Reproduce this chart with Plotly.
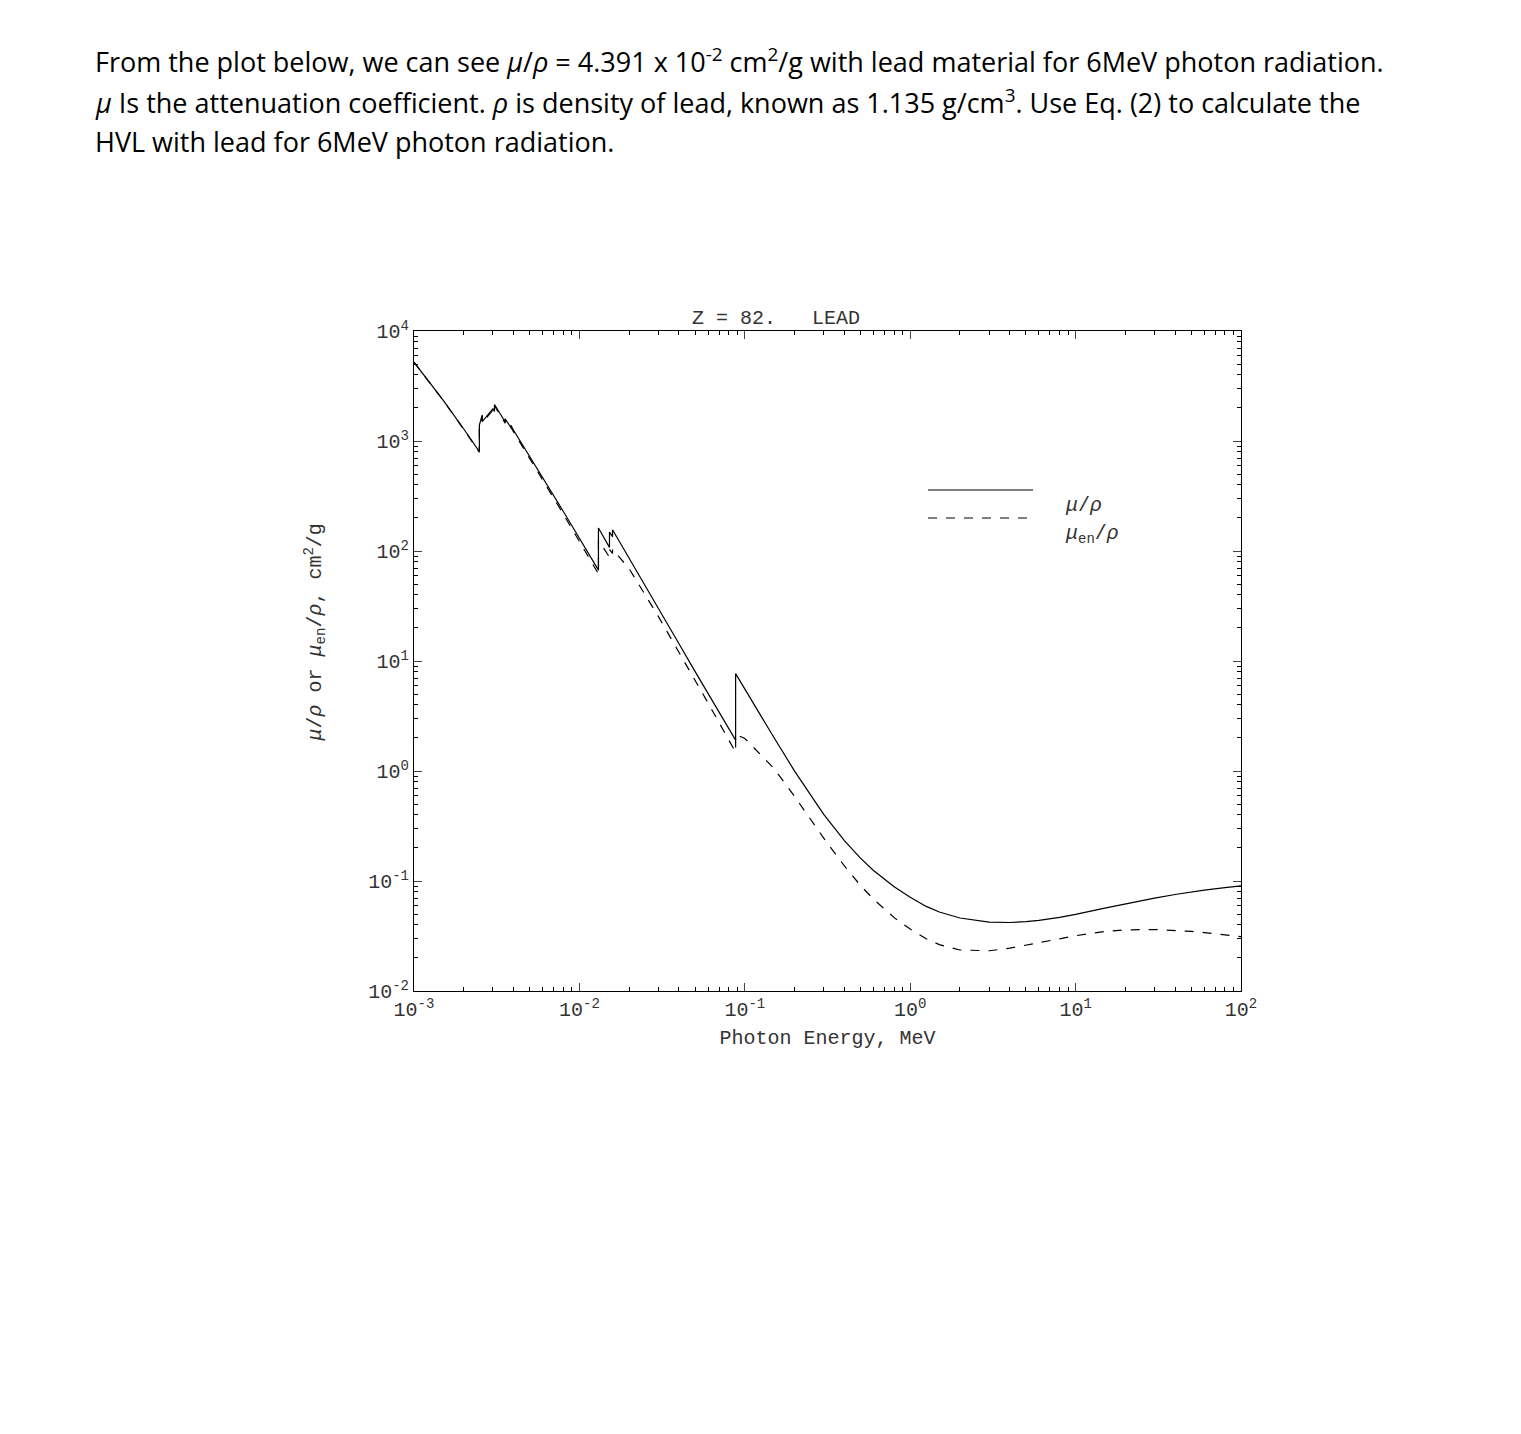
import plotly.graph_objects as go

# photon energy (MeV) and coefficients (cm^2/g) for lead
energy = [0.001, 0.0015, 0.002, 0.002484, 0.002484, 0.002586, 0.002586, 0.003, 0.003066, 0.003066,
          0.003554, 0.003554, 0.003851, 0.003851, 0.004, 0.005, 0.006, 0.008, 0.01,
          0.013035, 0.013035, 0.015, 0.0152, 0.0152, 0.01586, 0.01586, 0.02, 0.03, 0.04,
          0.05, 0.06, 0.08, 0.088, 0.088, 0.1, 0.15, 0.2, 0.3, 0.4, 0.5, 0.6, 0.8,
          1.0, 1.25, 1.5, 2.0, 3.0, 4.0, 5.0, 6.0, 8.0, 10.0, 15.0, 20.0, 30.0, 40.0,
          50.0, 60.0, 80.0, 100.0]
mu_rho = [5210, 2356, 1285, 800.6, 1397, 1726, 1497, 1965, 1857, 2149,
          1497, 1594, 1327, 1389, 1251, 730.4, 467.2, 228.7, 130.6,
          67.0, 162.0, 111.6, 107.8, 148.5, 135.0, 156.0, 86.36, 30.32, 14.36,
          8.041, 5.021, 2.419, 1.91, 7.683, 5.549, 2.014, 0.9985, 0.4031, 0.2323, 0.1614, 0.1248, 0.0887,
          0.07102, 0.05876, 0.05222, 0.04606, 0.04234, 0.04197, 0.04272, 0.04391, 0.04675, 0.04972,
          0.05658, 0.06206, 0.06997, 0.07541, 0.07946, 0.08257, 0.08701, 0.09011]
muen_rho = [5197, 2344, 1274, 789.7, 1366, 1682, 1457, 1916, 1812, 2093,
            1453, 1548, 1284, 1344, 1210, 701.7, 446.1, 216.2, 122.3,
            61.8, 125.0, 91.0, 88.0, 103.0, 95.0, 104.0, 68.99, 25.42, 12.11,
            6.74, 4.149, 1.916, 1.482, 2.16, 1.976, 1.056, 0.587, 0.2455, 0.137, 0.09128, 0.06819, 0.04644,
            0.03654, 0.02988, 0.0264, 0.0236, 0.02322, 0.02449, 0.026, 0.02744, 0.02989, 0.03181,
            0.03478, 0.03595, 0.03621, 0.03556, 0.03479, 0.03400, 0.03250, 0.03124]

x_ticks = [1e-3, 1e-2, 1e-1, 1, 10, 100]
x_labels = ["10<sup>-3</sup>", "10<sup>-2</sup>", "10<sup>-1</sup>", "10<sup>0</sup>", "10<sup>1</sup>", "10<sup>2</sup>"]
y_ticks = [1e-2, 1e-1, 1, 10, 100, 1e3, 1e4]
y_labels = ["10<sup>-2</sup>", "10<sup>-1</sup>", "10<sup>0</sup>", "10<sup>1</sup>", "10<sup>2</sup>", "10<sup>3</sup>", "10<sup>4</sup>"]

x_minor = [m * d for d in x_ticks[:-1] for m in range(2, 10)]
y_minor = [m * d for d in y_ticks[:-1] for m in range(2, 10)]

mono = dict(family="Liberation Mono", size=20, color="#333")

fig = go.Figure()
fig.add_scatter(x=energy, y=mu_rho, mode="lines", line=dict(color="black", width=1.2), name="μ/ρ")
fig.add_scatter(x=energy, y=muen_rho, mode="lines", line=dict(color="black", width=1.2, dash="dash"), name="μen/ρ")

axis = dict(type="log", ticks="inside", ticklen=8, mirror="allticks", showline=True, linecolor="black",
            linewidth=1, showgrid=False, zeroline=False, tickfont=mono)
fig.update_xaxes(**axis, range=[-3, 2], tickvals=x_ticks, ticktext=x_labels,
                 minor=dict(tickvals=x_minor, ticks="inside", ticklen=4, tickcolor="black", showgrid=False),
                 title=dict(text="Photon Energy, MeV", font=mono, standoff=8))
fig.update_yaxes(**axis, range=[-2, 4], tickvals=y_ticks, ticktext=y_labels,
                 minor=dict(tickvals=y_minor, ticks="inside", ticklen=4, tickcolor="black", showgrid=False))

header = [
    "From the plot below, we can see <i>μ</i>/<i>ρ</i> = 4.391 x 10<sup>-2</sup> cm<sup>2</sup>/g with lead material for 6MeV photon radiation.",
    "<i>μ</i> Is the attenuation coefficient. <i>ρ</i> is density of lead, known as 1.135 g/cm<sup>3</sup>. Use Eq. (2) to calculate the",
    "HVL with lead for 6MeV photon radiation.",
]
anns = []
for i, line in enumerate(header):
    anns.append(dict(text=line, xref="paper", yref="paper", x=(85 - 406) / 827, y=(983 - 53 - 40 * i) / 660,
                     xanchor="left", yanchor="middle", showarrow=False,
                     font=dict(family="Open Sans", size=27, color="black")))
anns += [
    dict(text="Z = 82.   LEAD", xref="paper", yref="paper", x=(768 - 406) / 827, y=(983 - 297) / 660,
         showarrow=False, font=mono),
    dict(text="<i>μ</i>/<i>ρ</i> or <i>μ</i><sub>en</sub>/<i>ρ</i>, cm<sup>2</sup>/g", xref="paper", yref="paper",
         x=(290 - 406) / 827, y=(983 - 625) / 660, textangle=-90, showarrow=False, font=mono),
    dict(text="<i>μ</i>/<i>ρ</i>", xref="paper", yref="paper", x=(1055 - 406) / 827, y=(983 - 484) / 660,
         xanchor="left", showarrow=False, font=mono),
    dict(text="<i>μ</i><sub>en</sub>/<i>ρ</i>", xref="paper", yref="paper", x=(1055 - 406) / 827, y=(983 - 512) / 660,
         xanchor="left", showarrow=False, font=mono),
]
shapes = [
    dict(type="line", xref="paper", yref="paper", x0=(920 - 406) / 827, x1=(1025 - 406) / 827,
         y0=(983 - 482) / 660, y1=(983 - 482) / 660, line=dict(color="black", width=1.2)),
    dict(type="line", xref="paper", yref="paper", x0=(920 - 406) / 827, x1=(1025 - 406) / 827,
         y0=(983 - 510) / 660, y1=(983 - 510) / 660, line=dict(color="black", width=1.2, dash="dash")),
]

fig.update_layout(width=1521, height=1434,
                  margin=dict(l=406, r=288, t=323, b=451, autoexpand=False),
                  plot_bgcolor="white", paper_bgcolor="white", showlegend=False,
                  annotations=anns, shapes=shapes)
fig.write_html("out.html")
